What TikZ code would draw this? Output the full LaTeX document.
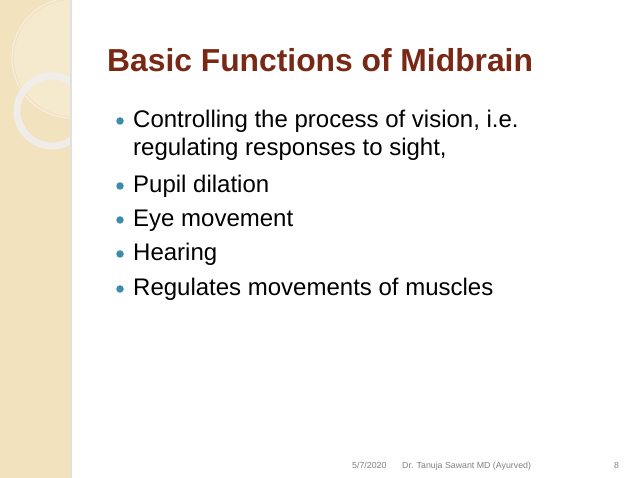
\documentclass[tikz,border=0pt]{standalone}
\usepackage{fontspec}
\setmainfont{Liberation Sans}
\begin{document}
\begin{tikzpicture}[x=1pt,y=-1pt,
  body/.style={anchor=base west,inner sep=0pt,font=\fontsize{24}{29}\selectfont,text=black,align=left},
  dot/.style={circle,fill=cyan!55!teal!85!black,inner sep=0pt,minimum size=7.5pt},
  foot/.style={anchor=base west,inner sep=0pt,font=\fontsize{8.8}{11}\selectfont,text=gray}]
\useasboundingbox (0,0) rectangle (638,478);
\fill[white] (0,0) rectangle (638,478);
\fill[fill={rgb,255:red,242;green,226;blue,190}] (0,0) rectangle (70,478);
\begin{scope}
\clip (0,0) rectangle (70,478);
\fill[white,opacity=0.25] (72,58) circle (58);
\draw[white!85!brown,line width=1.2pt] (72,58) circle (60);
\draw[white!88!gray,opacity=0.85,line width=7pt] (52,111) circle (35);
\end{scope}
\fill[black!12] (70,0) rectangle (72,478);
\node[anchor=base west,inner sep=0pt,font=\fontsize{31.8}{36}\selectfont\bfseries,text={rgb,255:red,120;green,40;blue,20}] (title) at (107,72) {Basic Functions of Midbrain};
\node[body] (t1) at (133,128) {Controlling the process of vision, i.e.};
\node[body] (t1b) at (133,156) {regulating responses to sight,};
\node[body] (t2) at (133,193) {Pupil dilation};
\node[body] (t3) at (133,227) {Eye movement};
\node[body] (t4) at (133,261) {Hearing};
\node[body] (t5) at (133,296) {Regulates movements of muscles};
\foreach \n/\y in {d1/121,d2/186,d3/220,d4/254,d5/289} \node[dot] (\n) at (120,\y) {};
\node[foot] (date) at (352,469) {5/7/2020};
\node[foot] (auth) at (402,469) {Dr. Tanuja Sawant MD (Ayurved)};
\node[foot] (pg) at (614,469) {8};
\end{tikzpicture}
\end{document}
